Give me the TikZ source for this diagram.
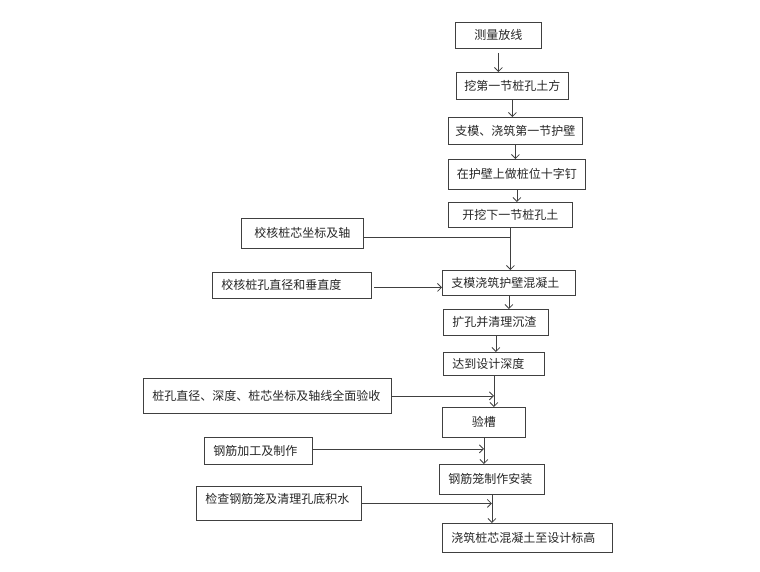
\documentclass[tikz,border=0pt]{standalone}
\usepackage{fontspec}
\newfontfamily\cjk{Noto Sans CJK SC}
\usetikzlibrary{arrows.meta, positioning}

\begin{document}
\begin{tikzpicture}[
      x=0.75pt, y=-0.75pt,
      >={Straight Barb[length=3pt, width=6pt]},
      font=\cjk\fontsize{9}{11}\selectfont,
      cbox/.style={draw=black!75, line width=0.6pt, anchor=north west, inner sep=0pt, align=center, text=black!85},
      lbox/.style={cbox, inner xsep=6.75pt, align=left},
      flow/.style={draw=black!75, line width=0.6pt, ->},
      joint/.style={draw=black!75, line width=0.6pt}
    ]
    \useasboundingbox (0,0) rectangle (760,571);

    % Hauptablauf
    \node[cbox, minimum width=64.5pt, minimum height=19.5pt] (b1) at (455,22) {测量放线};
    \node[cbox, minimum width=84pt, minimum height=20.25pt] (b2) at (456,72) {挖第一节桩孔土方};
    \node[cbox, minimum width=100.5pt, minimum height=20.25pt] (b3) at (448,117) {支模、浇筑第一节护壁};
    \node[cbox, minimum width=102.75pt, minimum height=22.5pt] (b4) at (448,159) {在护壁上做桩位十字钉};
    \node[cbox, minimum width=93pt, minimum height=18.75pt] (b5) at (448,202) {开挖下一节桩孔土};
    \node[lbox, text width=86.25pt, minimum height=18.75pt] (b6) at (442,270) {支模浇筑护壁混凝土};
    \node[lbox, text width=65.25pt, minimum height=19.5pt] (b7) at (443,309) {扩孔并清理沉渣};
    \node[lbox, text width=62.25pt, minimum height=17.25pt] (b8) at (443,352) {达到设计深度};
    \node[cbox, minimum width=62.25pt, minimum height=22.5pt] (b9) at (442,407) {验槽};
    \node[lbox, text width=65.25pt, minimum height=22.5pt] (b10) at (439,464) {钢筋笼制作安装};
    \node[lbox, text width=114pt, minimum height=21.75pt] (b11) at (442,523) {浇筑桩芯混凝土至设计标高};

    % Nebenschritte
    \node[cbox, minimum width=91.5pt, minimum height=22.5pt] (s1) at (241,218) {校核桩芯坐标及轴};
    \node[lbox, text width=105.75pt, minimum height=19.5pt] (s2) at (212,272) {校核桩孔直径和垂直度};
    \node[lbox, text width=172.5pt, minimum height=26.25pt] (s3) at (143,378) {桩孔直径、深度、桩芯坐标及轴线全面验收};
    \node[lbox, text width=67.5pt, minimum height=20.25pt] (s4) at (204,437) {钢筋加工及制作};
    \node[lbox, text width=110.25pt, text height=12.75pt, text depth=12.75pt] (s5) at (196,486) {检查钢筋笼及清理孔底积水};

    % Pfeile
    \draw[flow, shorten <=3pt] (b1.south) -- (b1.south |- b2.north);
    \foreach \a/\b in {b2/b3, b3/b4, b4/b5, b5/b6, b6/b7, b7/b8, b8/b9, b9/b10, b10/b11}
      \draw[flow] (\a.south) -- (\a.south |- \b.north);

    \draw[joint] ([yshift=-3pt]s1.east) -- ([yshift=-3pt]s1.east -| b5.south);
    \draw[flow] ([xshift=2pt, yshift=-1.5pt]s2.east) -- ([yshift=-1.5pt]s2.east -| b6.west);
    \draw[flow] (s3.east) -- (s3.east -| b8.south);
    \draw[flow] ([yshift=1.5pt]s4.east) -- ([yshift=1.5pt]s4.east -| b9.south);
    \draw[flow] (s5.east) -- (s5.east -| b10.south);
  \end{tikzpicture}
\end{document}
